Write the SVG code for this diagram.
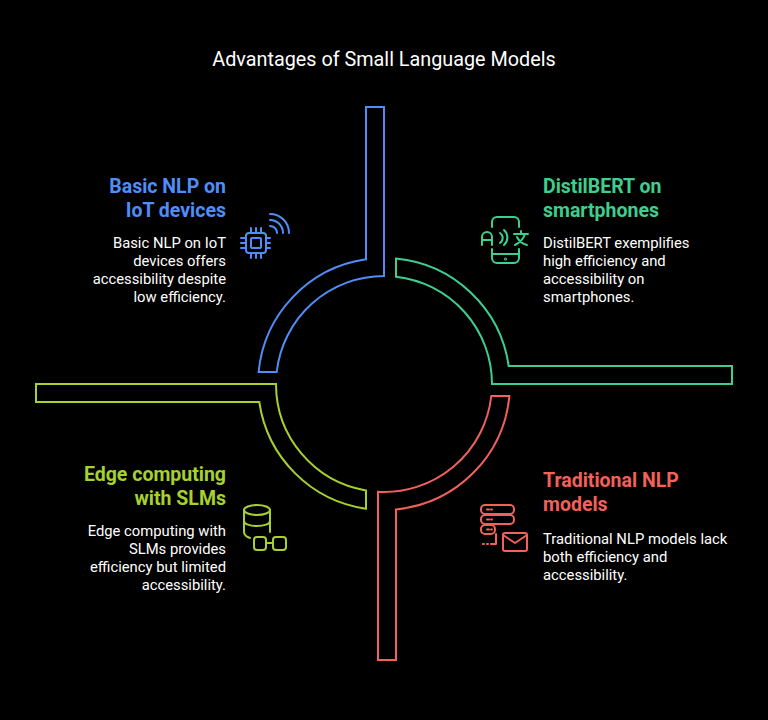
<svg xmlns="http://www.w3.org/2000/svg" width="768" height="720" viewBox="0 0 768 720">
<style>
.s{fill:none;stroke-width:2;stroke-linejoin:miter}
.i{fill:none;stroke-width:2;stroke-linecap:round;stroke-linejoin:round}
.t{font-family:Roboto,"Liberation Sans",sans-serif;font-weight:bold;font-size:19.5px}
.b{font-family:Roboto,"Liberation Sans",sans-serif;font-size:14.8px;fill:#fff}
.r{text-anchor:end}
.blue{stroke:#4f8ef7}.green{stroke:#3ecf8e}.yel{stroke:#a6d12e}.red{stroke:#f2615a}
</style>
<rect width="768" height="720" fill="#000"/>
<text x="384" y="66" text-anchor="middle" font-family="Roboto,'Liberation Sans',sans-serif" font-size="19.8" fill="#fff">Advantages of Small Language Models</text>
<g id="connectors">
<path class="s blue" d="M366,107 L384,107 L384,276 A108,108 0 0 0 276.7,372 L258.6,372 A126,126 0 0 1 366,259.3 Z"/>
<path class="s green" d="M396,258.6 A126,126 0 0 1 508.7,366 L732,366 L732,384 L492,384 A108,108 0 0 0 396,276.7 Z"/>
<path class="s yel" d="M36,384 L276,384 A108,108 0 0 0 366,490.5 L366,508.7 A126,126 0 0 1 259.3,402 L36,402 Z"/>
<path class="s red" d="M491.3,396 L509.4,396 A126,126 0 0 1 396,509.4 L396,660 L378,660 L378,491.8 A108,108 0 0 0 491.3,396 Z"/>
</g>
<g id="basic-nlp">
<text class="t r" fill="#4f8ef7" x="226" y="193">Basic NLP on</text>
<text class="t r" fill="#4f8ef7" x="226" y="217">IoT devices</text>
<text class="b r" x="226" y="248">Basic NLP on IoT</text>
<text class="b r" x="226" y="266">devices offers</text>
<text class="b r" x="226" y="284">accessibility despite</text>
<text class="b r" x="226" y="302">low efficiency.</text>
<g class="i blue">
<rect x="246" y="233" width="20" height="20" rx="3"/><rect x="251" y="238" width="10" height="10" rx="1"/>
<path d="M251,228v5M256,228v5M261,228v5M251,253v5M256,253v5M261,253v5M241,238h5M241,243h5M241,248h5M266,238h4M266,243h4M266,248h4"/>
<path d="M270,226a7,7 0 0 1 7,7M270,220a13,13 0 0 1 13,13M270,214a19,19 0 0 1 19,19"/>
</g>
</g>
<g id="distilbert">
<text class="t" fill="#3ecf8e" x="543" y="193">DistilBERT on</text>
<text class="t" fill="#3ecf8e" x="543" y="217">smartphones</text>
<text class="b" x="543" y="248">DistilBERT exemplifies</text>
<text class="b" x="543" y="266">high efficiency and</text>
<text class="b" x="543" y="284">accessibility on</text>
<text class="b" x="543" y="302">smartphones.</text>
<g class="i green">
<path d="M492,227v-5a5,5 0 0 1 5,-5h17a5,5 0 0 1 5,5v5M492,249v9a5,5 0 0 0 5,5h17a5,5 0 0 0 5,-5v-9M492,254h27"/>
<circle cx="505.5" cy="259" r="0.5"/>
<path d="M482,245v-8a5,5 0 0 1 10,0v8M482,240h10"/>
<path d="M500,233a6,6 0 0 1 0,10M504,230a10,10 0 0 1 0,15"/>
<path d="M514,234h14M521,231v3M525,234c-2,6 -6,9 -10,11M517,237c2,4 6,7 10,8"/>
</g>
</g>
<g id="edge-computing">
<text class="t r" fill="#a6d12e" x="226" y="481">Edge computing</text>
<text class="t r" fill="#a6d12e" x="226" y="505">with SLMs</text>
<text class="b r" x="226" y="536">Edge computing with</text>
<text class="b r" x="226" y="554">SLMs provides</text>
<text class="b r" x="226" y="572">efficiency but limited</text>
<text class="b r" x="226" y="590">accessibility.</text>
<g class="i yel">
<ellipse cx="257" cy="510" rx="13" ry="5"/>
<path d="M244,510v22c0,3 3,5 6,6M270,510v22M244,521c0,3 6,5 13,5s13,-2 13,-5"/>
<rect x="254" y="537" width="12" height="13" rx="3"/><rect x="273" y="537" width="13" height="13" rx="3"/><path d="M266,543h7"/>
</g>
</g>
<g id="traditional-nlp">
<text class="t" fill="#f2615a" x="543" y="487">Traditional NLP</text>
<text class="t" fill="#f2615a" x="543" y="511">models</text>
<text class="b" x="543" y="544">Traditional NLP models lack</text>
<text class="b" x="543" y="562">both efficiency and</text>
<text class="b" x="543" y="580">accessibility.</text>
<g class="i red">
<rect x="481" y="505" width="33" height="9" rx="4"/><rect x="481" y="515" width="33" height="9" rx="4"/><rect x="481" y="525" width="14" height="9" rx="4"/>
<path d="M487,509.5h2M491,509.5h1M487,519.5h2M491,519.5h1M487,529.5h2M491,529.5h1M483,544h1M487,544h1M491,544h5v-10"/>
<rect x="503" y="533" width="24" height="18" rx="2"/><path d="M503,535l12,8l12,-8"/>
</g>
</g>
</svg>
